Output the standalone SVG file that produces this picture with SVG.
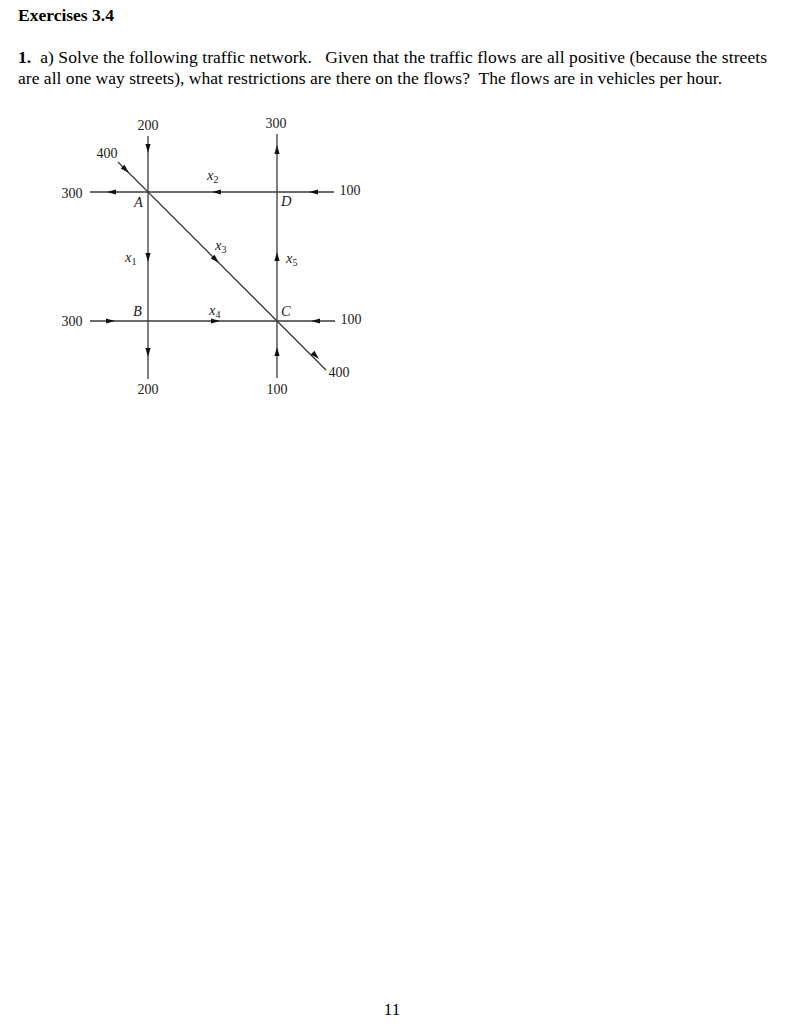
<svg xmlns="http://www.w3.org/2000/svg" xmlns:xlink="http://www.w3.org/1999/xlink" width="811" height="1024" viewBox="0 0 811 1024">
<style>
.t{font-family:"Liberation Serif","Times New Roman",serif;fill:#000}
.body{font-size:17.5px}
.lab{font-size:14px;fill:#222}
.it{font-style:italic;font-size:14.5px;fill:#222}
.sub{font-size:10px}
.st{stroke:#3a3a3a;stroke-width:1.3;fill:none}
.ah{fill:#111}
</style>
<defs>
<path id="ah" d="M0,0 L-9,-2.6 L-9,2.6 Z"/>
</defs>
<rect width="811" height="1024" fill="#fff"/>
<text class="t" x="18" y="21" font-size="17.5" font-weight="bold">Exercises 3.4</text>
<text class="t body" x="18" y="63" xml:space="preserve" textLength="749" lengthAdjust="spacing"><tspan font-weight="bold">1.</tspan>  a) Solve the following traffic network.   Given that the traffic flows are all positive (because the streets</text>
<text class="t body" x="18" y="84" xml:space="preserve" textLength="704" lengthAdjust="spacing">are all one way streets), what restrictions are there on the flows?  The flows are in vehicles per hour.</text>

<g id="connectors">
<line class="st" x1="148" y1="136" x2="148" y2="379"/>
<line class="st" x1="277" y1="134" x2="277" y2="378"/>
<line class="st" x1="90" y1="192" x2="334" y2="192"/>
<line class="st" x1="90" y1="321" x2="335" y2="321"/>
<line class="st" x1="118" y1="162" x2="326" y2="370" stroke-width="1.1"/>
<g class="ah">
<use xlink:href="#ah" transform="translate(148,153) rotate(90)"/>
<use xlink:href="#ah" transform="translate(148,262) rotate(90)"/>
<use xlink:href="#ah" transform="translate(148,357) rotate(90)"/>
<use xlink:href="#ah" transform="translate(107,192) rotate(180)"/>
<use xlink:href="#ah" transform="translate(212,192) rotate(180)"/>
<use xlink:href="#ah" transform="translate(309,192) rotate(180)"/>
<use xlink:href="#ah" transform="translate(277,145) rotate(-90)"/>
<use xlink:href="#ah" transform="translate(277,252) rotate(-90)"/>
<use xlink:href="#ah" transform="translate(277,347) rotate(-90)"/>
<use xlink:href="#ah" transform="translate(115,321)"/>
<use xlink:href="#ah" transform="translate(220,321)"/>
<use xlink:href="#ah" transform="translate(311,321) rotate(180)"/>
<use xlink:href="#ah" transform="translate(129,173) rotate(45)"/>
<use xlink:href="#ah" transform="translate(219,263) rotate(45)"/>
<use xlink:href="#ah" transform="translate(319,359) rotate(45)"/>
</g>
</g>

<g id="node-A"><text class="t it" x="134" y="207">A</text></g>
<g id="node-B"><text class="t it" x="133" y="316">B</text></g>
<g id="node-C"><text class="t it" x="281" y="316">C</text></g>
<g id="node-D"><text class="t it" x="281" y="206">D</text></g>

<g id="flow-labels">
<text class="t lab" x="148" y="130" text-anchor="middle">200</text>
<text class="t lab" x="276" y="128" text-anchor="middle">300</text>
<text class="t lab" x="107" y="158" text-anchor="middle">400</text>
<text class="t lab" x="72" y="198" text-anchor="middle">300</text>
<text class="t lab" x="350" y="195" text-anchor="middle">100</text>
<text class="t lab" x="72" y="326" text-anchor="middle">300</text>
<text class="t lab" x="351" y="324" text-anchor="middle">100</text>
<text class="t lab" x="339" y="377" text-anchor="middle">400</text>
<text class="t lab" x="148" y="394" text-anchor="middle">200</text>
<text class="t lab" x="277" y="394" text-anchor="middle">100</text>
</g>
<g id="var-labels">
<text class="t it" x="125" y="262">x<tspan class="sub" dy="3" font-style="normal">1</tspan></text>
<text class="t it" x="207" y="180">x<tspan class="sub" dy="3" font-style="normal">2</tspan></text>
<text class="t it" x="215" y="250">x<tspan class="sub" dy="3" font-style="normal">3</tspan></text>
<text class="t it" x="209" y="315">x<tspan class="sub" dy="3" font-style="normal">4</tspan></text>
<text class="t it" x="286" y="263">x<tspan class="sub" dy="3" font-style="normal">5</tspan></text>
</g>

<text class="t" x="392" y="1015" font-size="17" text-anchor="middle">11</text>
</svg>
